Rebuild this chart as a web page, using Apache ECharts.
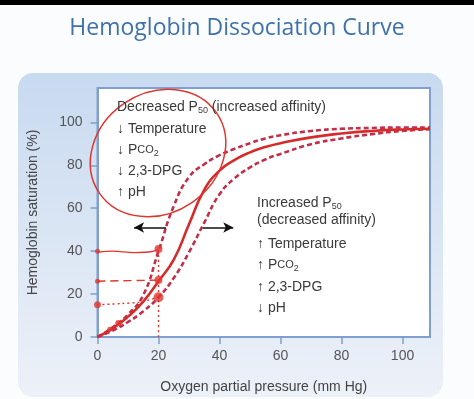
<!DOCTYPE html>
<html>
<head>
<meta charset="utf-8">
<script src="https://cdn.jsdelivr.net/npm/echarts@6/dist/echarts.min.js"></script>
<style>
    html, body { margin: 0; padding: 0; background: #fbfcfe; }
    #chart { width: 474px; height: 399px; }
</style>
</head>
<body>
<div id="chart"></div>
<script>
// 坐标轴刻度
const xTicks = [0, 20, 40, 60, 80, 100];
const yTicks = [0, 20, 40, 60, 80, 100];

// 三条解离曲线 [PO2 mmHg, 饱和度 %]
const leftShift = [[0, 0], [5, 4.5], [10, 10.5], [15, 19.5], [20, 40], [25, 61], [30, 74.5], [35, 80.5], [40, 84.7], [45, 87.7], [50, 90.3], [55, 92.5], [60, 94], [70, 96], [80, 97], [90, 97.4], [100, 97.6], [109, 97.6]];
const normal = [[0, 0], [5, 4], [10, 9.5], [15, 16.5], [20, 26], [25, 36], [30, 52.5], [35, 68.5], [40, 77.5], [45, 82.5], [50, 86], [55, 88.5], [60, 90.3], [70, 93], [80, 94.8], [90, 96], [100, 96.7], [109, 97]];
const rightShift = [[0, 0], [5, 3], [10, 7], [15, 12], [20, 18.5], [25, 27.5], [30, 39.5], [35, 53.3], [40, 66.5], [45, 74], [50, 79], [55, 82.7], [60, 85.3], [70, 89.8], [80, 92.5], [90, 94.5], [100, 96], [109, 96.8]];

// 黑色箭头 (P50 方向)
const arrowLeft = [[22.5, 51], [12, 51]];
const arrowRight = [[34.5, 51], [44.5, 51]];

// 手写红笔标注
const pen40 = [[0, 39.5], [5, 40], [12, 39.3], [18, 39.8], [20, 41]];
const pen27 = [[0, 26], [20, 26.5]];
const pen15 = [[0, 15], [8, 15.6], [14, 16.3], [20, 18.5]];
const penVert = [[20, 0], [20, 41]];
const penDots = [[0, 40, 5], [0, 26, 5], [0, 15, 7], [20, 41, 8], [20, 26.5, 8], [20, 18.5, 10], [4, 3.6, 5], [6.8, 6.5, 6]];

const RED = '#d42b2b';
const DASH_RED = '#c0304a';
const PEN = '#e0362f';
const AXIS_BLUE = '#7f9fd0';
const TEXT = '#3a3a3a';
const FONT = '"Liberation Sans", Arial, sans-serif';

function curve(name, data, color, type) {
    return {
        name: name,
        type: 'line',
        data: data,
        smooth: 0.5,
        showSymbol: false,
        silent: true,
        z: 3,
        lineStyle: { color: color, width: 2.6, type: type }
    };
}

function pen(data, type) {
    return {
        type: 'line',
        data: data,
        smooth: 0.3,
        showSymbol: false,
        silent: true,
        z: 4,
        lineStyle: { color: PEN, width: 1.4, type: type }
    };
}

function textLine(x, y, rich) {
    return {
        type: 'text',
        x: x,
        y: y,
        z: 10,
        style: {
            text: rich,
            fill: TEXT,
            font: '14px ' + FONT,
            verticalAlign: 'middle',
            rich: {
                n: { fontSize: 14, fontFamily: FONT, color: TEXT },
                sc: { fontSize: 11, fontFamily: FONT, color: TEXT },
                sub: { fontSize: 9, fontFamily: FONT, color: TEXT, padding: [7, 0, 0, 0] }
            }
        }
    };
}

const chart = echarts.init(document.getElementById('chart'));

const option = {
    animation: false,
    title: {
        text: 'Hemoglobin Dissociation Curve',
        left: 'center',
        top: 12,
        textStyle: { color: '#3f72ab', fontFamily: '"Open Sans", sans-serif', fontSize: 23, fontWeight: 'normal' }
    },
    grid: {
        left: 97.5,
        right: 44,
        top: 88,
        bottom: 55,
        show: true,
        backgroundColor: '#ffffff',
        borderColor: AXIS_BLUE,
        borderWidth: 2
    },
    xAxis: {
        type: 'value',
        min: 0,
        max: 109,
        name: 'Oxygen partial pressure (mm Hg)',
        nameLocation: 'middle',
        nameGap: 43,
        nameTextStyle: { color: '#444', fontFamily: FONT, fontSize: 14 },
        axisLine: { lineStyle: { color: AXIS_BLUE, width: 2 } },
        axisTick: { customValues: xTicks, length: 7, lineStyle: { color: AXIS_BLUE, width: 1.5 } },
        axisLabel: { customValues: xTicks, margin: 12, color: '#555', fontFamily: FONT, fontSize: 14 },
        splitLine: { show: false }
    },
    yAxis: {
        type: 'value',
        min: 0,
        max: 116,
        name: 'Hemoglobin saturation (%)',
        nameLocation: 'middle',
        nameGap: 57,
        nameTextStyle: { color: '#444', fontFamily: FONT, fontSize: 14 },
        axisLine: { lineStyle: { color: AXIS_BLUE, width: 2 } },
        axisTick: { customValues: yTicks, length: 7, lineStyle: { color: AXIS_BLUE, width: 1.5 } },
        axisLabel: { customValues: yTicks, margin: 15, color: '#555', fontFamily: FONT, fontSize: 14 },
        splitLine: { show: false }
    },
    graphic: [
        { type: 'rect', z: -100, shape: { x: 0, y: 0, width: 474, height: 5 }, style: { fill: '#000' } },
        {
            type: 'rect', z: -100,
            shape: { x: 18, y: 73, width: 425, height: 324, r: 15 },
            style: {
                fill: new echarts.graphic.LinearGradient(0, 0, 0, 1, [
                    { offset: 0, color: '#c8daf0' },
                    { offset: 1, color: '#edf1f8' }
                ])
            }
        },
        {
            type: 'ellipse', z: 10,
            x: 158, y: 153, rotation: 0.6,
            shape: { cx: 0, cy: 0, rx: 71, ry: 60 },
            style: { fill: 'none', stroke: PEN, lineWidth: 1.5 }
        },
        textLine(117, 107, '{n|Decreased P}{sub|50}{n| (increased affinity)}'),
        textLine(117, 129, '{n|\u2193 Temperature}'),
        textLine(117, 150, '{n|\u2193 P}{sc|CO}{sub|2}'),
        textLine(117, 171, '{n|\u2193 2,3-DPG}'),
        textLine(117, 192, '{n|\u2191 pH}'),
        textLine(257, 203, '{n|Increased P}{sub|50}'),
        textLine(257, 220, '{n|(decreased affinity)}'),
        textLine(257, 244, '{n|\u2191 Temperature}'),
        textLine(257, 265, '{n|\u2191 P}{sc|CO}{sub|2}'),
        textLine(257, 287, '{n|\u2191 2,3-DPG}'),
        textLine(257, 308, '{n|\u2193 pH}')
    ],
    series: [
        curve('left', leftShift, DASH_RED, [5, 3]),
        curve('right', rightShift, DASH_RED, [5, 3]),
        Object.assign(curve('normal', normal, RED, 'solid'), {
            markLine: {
                silent: true,
                symbol: ['none', 'arrow'],
                symbolSize: [8, 10],
                label: { show: false },
                lineStyle: { color: '#111', width: 1.5, type: 'solid' },
                data: [
                    [{ coord: arrowLeft[0] }, { coord: arrowLeft[1] }],
                    [{ coord: arrowRight[0] }, { coord: arrowRight[1] }]
                ]
            }
        }),
        pen(pen40, 'solid'),
        pen(pen27, [8, 5]),
        pen(pen15, [2, 3]),
        pen(penVert, [2, 3]),
        {
            type: 'scatter',
            data: penDots,
            silent: true,
            z: 5,
            symbolSize: function (v) { return v[2]; },
            itemStyle: { color: PEN }
        }
    ]
};

chart.setOption(option);
</script>
</body>
</html>
